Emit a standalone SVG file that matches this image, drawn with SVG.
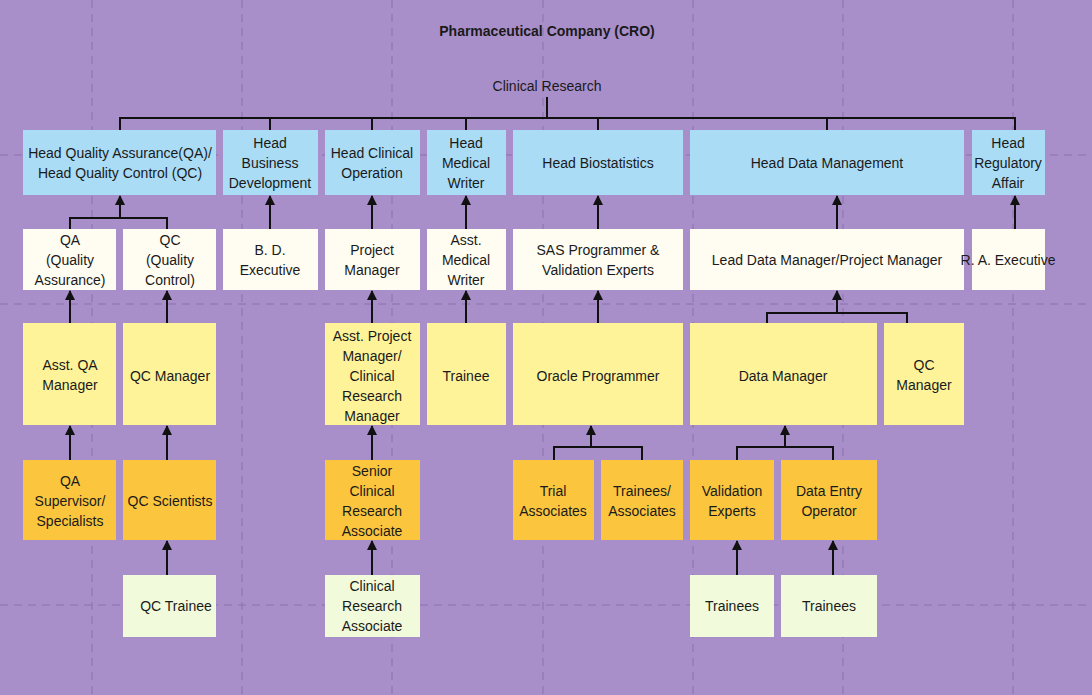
<svg xmlns="http://www.w3.org/2000/svg" width="1092" height="695" viewBox="0 0 1092 695">
<defs>
<marker id="ah" viewBox="0 0 10 10" refX="9" refY="5" markerWidth="10" markerHeight="12" markerUnits="userSpaceOnUse" orient="auto"><path d="M0,0 L10,5 L0,10 z" fill="#111"/></marker>
<style>
text{font-family:"Liberation Sans",Arial,sans-serif;font-size:14px;fill:#1a1a1a;text-anchor:middle}
.b{fill:#aadcf6}.w{fill:#fffdf2}.y{fill:#fff39a}.o{fill:#fbc63e}.g{fill:#f1fadb}
.c path{fill:none;stroke:#111;stroke-width:2}
.a{marker-end:url(#ah)}
.grid line{stroke:#8a70ad;stroke-width:1;stroke-dasharray:8,6}
</style>
</defs>
<rect width="1092" height="695" fill="#a98fca"/>
<g class="grid">
<line x1="0" y1="304" x2="1092" y2="304"/><line x1="0" y1="605" x2="1092" y2="605"/><line x1="0" y1="155" x2="1092" y2="155"/>
<line x1="92" y1="0" x2="92" y2="695"/><line x1="242" y1="0" x2="242" y2="695"/><line x1="392" y1="0" x2="392" y2="695"/><line x1="543" y1="0" x2="543" y2="695"/><line x1="693" y1="0" x2="693" y2="695"/><line x1="843" y1="0" x2="843" y2="695"/><line x1="1013" y1="0" x2="1013" y2="695"/>
</g>
<text x="547" y="36" style="font-weight:bold;font-size:14px">Pharmaceutical Company (CRO)</text>
<text x="547" y="91">Clinical Research</text>
<g class="c">
<path d="M547,97 V118 M120,130 V118 H1015 V130 M270,118 V130 M372,118 V130 M466,118 V130 M598,118 V130 M827,118 V130"/>
<path d="M70,229 V218 H167 V229"/><path class="a" d="M120,218 V196"/>
<path class="a" d="M270,229 V196"/><path class="a" d="M372,229 V196"/><path class="a" d="M466,229 V196"/><path class="a" d="M598,229 V196"/><path class="a" d="M837,229 V196"/><path class="a" d="M1015,229 V196"/>
<path class="a" d="M70,323 V291"/><path class="a" d="M167,323 V291"/><path class="a" d="M372,323 V291"/><path class="a" d="M466,323 V291"/><path class="a" d="M598,323 V291"/>
<path d="M767,323 V313 H907 V323"/><path class="a" d="M837,313 V291"/>
<path class="a" d="M70,460 V426"/><path class="a" d="M167,460 V426"/><path class="a" d="M372,460 V426"/>
<path d="M554,460 V447 H642 V460"/><path class="a" d="M591,447 V426"/>
<path d="M737,460 V447 H833 V460"/><path class="a" d="M785,447 V426"/>
<path class="a" d="M167,575 V541"/><path class="a" d="M372,575 V541"/><path class="a" d="M737,575 V541"/><path class="a" d="M833,575 V541"/>
</g>
<g id="hqa"><rect class="b" x="23" y="130" width="193" height="65"/><text x="120" y="158">Head Quality Assurance(QA)/</text><text x="120" y="178">Head Quality Control (QC)</text></g>
<g id="hbd"><rect class="b" x="223" y="130" width="95" height="65"/><text x="270" y="148">Head</text><text x="270" y="168">Business</text><text x="270" y="188">Development</text></g>
<g id="hco"><rect class="b" x="325" y="130" width="95" height="65"/><text x="372" y="158">Head Clinical</text><text x="372" y="178">Operation</text></g>
<g id="hmw"><rect class="b" x="427" y="130" width="79" height="65"/><text x="466" y="148">Head</text><text x="466" y="168">Medical</text><text x="466" y="188">Writer</text></g>
<g id="hbs"><rect class="b" x="513" y="130" width="170" height="65"/><text x="598" y="168">Head Biostatistics</text></g>
<g id="hdm"><rect class="b" x="690" y="130" width="274" height="65"/><text x="827" y="168">Head Data Management</text></g>
<g id="hra"><rect class="b" x="972" y="130" width="73" height="65"/><text x="1008" y="148">Head</text><text x="1008" y="168">Regulatory</text><text x="1008" y="188">Affair</text></g>
<g id="qa"><rect class="w" x="23" y="229" width="93" height="61"/><text x="70" y="245">QA</text><text x="70" y="265">(Quality</text><text x="70" y="285">Assurance)</text></g>
<g id="qc"><rect class="w" x="123" y="229" width="93" height="61"/><text x="170" y="245">QC</text><text x="170" y="265">(Quality</text><text x="170" y="285">Control)</text></g>
<g id="bde"><rect class="w" x="223" y="229" width="95" height="61"/><text x="270" y="255">B. D.</text><text x="270" y="275">Executive</text></g>
<g id="pm"><rect class="w" x="325" y="229" width="95" height="61"/><text x="372" y="255">Project</text><text x="372" y="275">Manager</text></g>
<g id="amw"><rect class="w" x="427" y="229" width="79" height="61"/><text x="466" y="245">Asst.</text><text x="466" y="265">Medical</text><text x="466" y="285">Writer</text></g>
<g id="sas"><rect class="w" x="513" y="229" width="170" height="61"/><text x="598" y="255">SAS Programmer &amp;</text><text x="598" y="275">Validation Experts</text></g>
<g id="ldm"><rect class="w" x="690" y="229" width="274" height="61"/><text x="827" y="265">Lead Data Manager/Project Manager</text></g>
<g id="rae"><rect class="w" x="972" y="229" width="73" height="61"/><text x="1008" y="265">R. A. Executive</text></g>
<g id="aqm"><rect class="y" x="23" y="323" width="93" height="102"/><text x="70" y="370">Asst. QA</text><text x="70" y="390">Manager</text></g>
<g id="qcm"><rect class="y" x="123" y="323" width="93" height="102"/><text x="170" y="381">QC Manager</text></g>
<g id="apm"><rect class="y" x="325" y="323" width="95" height="102"/><text x="372" y="341">Asst. Project</text><text x="372" y="361">Manager/</text><text x="372" y="381">Clinical</text><text x="372" y="401">Research</text><text x="372" y="421">Manager</text></g>
<g id="tr"><rect class="y" x="427" y="323" width="79" height="102"/><text x="466" y="381">Trainee</text></g>
<g id="op"><rect class="y" x="513" y="323" width="170" height="102"/><text x="598" y="381">Oracle Programmer</text></g>
<g id="dm"><rect class="y" x="690" y="323" width="187" height="102"/><text x="783" y="381">Data Manager</text></g>
<g id="qcm2"><rect class="y" x="884" y="323" width="80" height="102"/><text x="924" y="370">QC</text><text x="924" y="390">Manager</text></g>
<g id="qas"><rect class="o" x="23" y="460" width="93" height="80"/><text x="70" y="486">QA</text><text x="70" y="506">Supervisor/</text><text x="70" y="526">Specialists</text></g>
<g id="qcs"><rect class="o" x="123" y="460" width="93" height="80"/><text x="170" y="506">QC Scientists</text></g>
<g id="scra"><rect class="o" x="325" y="460" width="95" height="80"/><text x="372" y="476">Senior</text><text x="372" y="496">Clinical</text><text x="372" y="516">Research</text><text x="372" y="536">Associate</text></g>
<g id="ta"><rect class="o" x="513" y="460" width="81" height="80"/><text x="553" y="496">Trial</text><text x="553" y="516">Associates</text></g>
<g id="tas"><rect class="o" x="601" y="460" width="82" height="80"/><text x="642" y="496">Trainees/</text><text x="642" y="516">Associates</text></g>
<g id="ve"><rect class="o" x="690" y="460" width="84" height="80"/><text x="732" y="496">Validation</text><text x="732" y="516">Experts</text></g>
<g id="deo"><rect class="o" x="781" y="460" width="96" height="80"/><text x="829" y="496">Data Entry</text><text x="829" y="516">Operator</text></g>
<g id="qct"><rect class="g" x="123" y="575" width="93" height="62"/><text x="176" y="611">QC Trainee</text></g>
<g id="cra"><rect class="g" x="325" y="575" width="95" height="62"/><text x="372" y="591">Clinical</text><text x="372" y="611">Research</text><text x="372" y="631">Associate</text></g>
<g id="t1"><rect class="g" x="690" y="575" width="84" height="62"/><text x="732" y="611">Trainees</text></g>
<g id="t2"><rect class="g" x="781" y="575" width="96" height="62"/><text x="829" y="611">Trainees</text></g>
</svg>
